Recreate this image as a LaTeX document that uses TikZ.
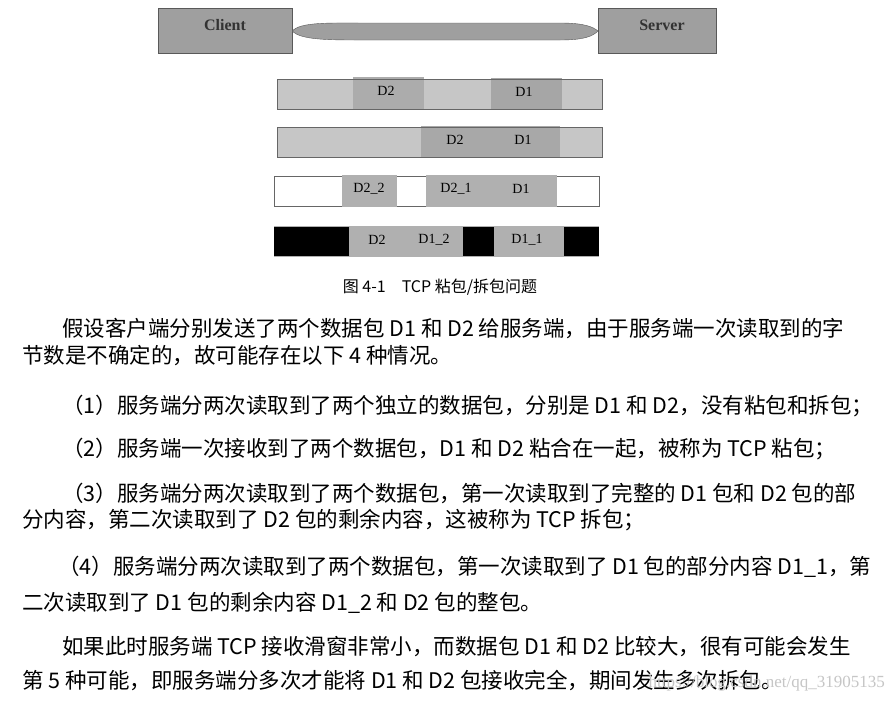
\documentclass[tikz,border=0pt]{standalone}
\usepackage{fontspec}
\setmainfont{Liberation Serif}
\newfontfamily\cjk{Noto Sans CJK SC}
\begin{document}
\begin{tikzpicture}[x=1pt,y=-1pt,
  lab/.style={font=\fontsize{14}{14}\selectfont,inner sep=0},
  big/.style={inner sep=0,font=\bfseries\fontsize{16}{16}\selectfont,text=black!80},
  para/.style={anchor=west,inner sep=0,font=\cjk\fontsize{21.5}{22}\selectfont},
  bar/.style={draw=gray!80!black,line width=0.8pt}]
\useasboundingbox (0,0) rectangle (895,702);
\fill[white] (0,0) rectangle (895,702);
% client / server
\node[draw=gray!70!black,fill=gray!75,minimum width=134pt,minimum height=45pt,anchor=north west,inner sep=0] (client) at (158,8) {};
\node[big] (clt) at (225,25) {Client};
\node[draw=gray!70!black,fill=gray!75,minimum width=118pt,minimum height=45pt,anchor=north west,inner sep=0] (server) at (598,8) {};
\node[big] (srt) at (662,25) {Server};
\fill[gray!75,draw=gray!70!black] (client.east |- 0,31) .. controls (300,22) and (330,23) .. (360,23) -- (560,23) .. controls (585,23) and (593,27) .. (server.west |- 0,31) .. controls (593,36) and (585,40) .. (560,40) -- (360,40) .. controls (330,40) and (300,40) .. (client.east |- 0,31);
% row 1
\fill[gray!45] (277,79) rectangle (602,109);
\fill[gray!65] (353,77) rectangle (424,110);
\fill[gray!70] (491,78) rectangle (562,110);
\draw[bar] (277,79) rectangle (602,109);
\node[lab] (r1a) at (386,91) {D2};
\node[lab] (r1b) at (524,92) {D1};
% row 2
\fill[gray!45] (277,127) rectangle (602,157);
\fill[gray!68] (421,126) rectangle (560,157);
\draw[bar] (277,127) rectangle (602,157);
\node[lab] (r2a) at (455,140) {D2};
\node[lab] (r2b) at (523,140) {D1};
% row 3
\draw[bar] (274,176) rectangle (599,206);
\fill[gray!62] (342,175) rectangle (397,207);
\fill[gray!62] (426,175) rectangle (557,207);
\node[lab] (r3a) at (369,189) {D2\_2};
\node[lab] (r3b) at (456,189) {D2\_1};
\node[lab] (r3c) at (521,189) {D1};
% row 4
\fill[gray!62] (274,226) rectangle (599,257);
\fill[black] (274,227) rectangle (349,256);
\fill[black] (463,227) rectangle (494,256);
\fill[black] (564,227) rectangle (599,256);
\node[lab] (r4a) at (377,240) {D2};
\node[lab] (r4b) at (434,240) {D1\_2};
\node[lab] (r4c) at (527,240) {D1\_1};
% caption
\node[inner sep=0,font=\cjk\fontsize{16}{16}\selectfont] (cap) at (440,287) {图 4-1\quad TCP 粘包/拆包问题};
% paragraphs
\node[para] (p1) at (62,329) {假设客户端分别发送了两个数据包 D1 和 D2 给服务端，由于服务端一次读取到的字};
\node[para] (p2) at (22,356) {节数是不确定的，故可能存在以下 4 种情况。};
\node[para] (p3) at (62,406) {（1）服务端分两次读取到了两个独立的数据包，分别是 D1 和 D2，没有粘包和拆包；};
\node[para] (p4) at (62,449) {（2）服务端一次接收到了两个数据包，D1 和 D2 粘合在一起，被称为 TCP 粘包；};
\node[para] (p5) at (62,493) {（3）服务端分两次读取到了两个数据包，第一次读取到了完整的 D1 包和 D2 包的部};
\node[para] (p6) at (22,520) {分内容，第二次读取到了 D2 包的剩余内容，这被称为 TCP 拆包；};
\node[para] (p7) at (58,567) {（4）服务端分两次读取到了两个数据包，第一次读取到了 D1 包的部分内容 D1\_1，第};
\node[para] (p8) at (22,603) {二次读取到了 D1 包的剩余内容 D1\_2 和 D2 包的整包。};
\node[para] (p9) at (62,647) {如果此时服务端 TCP 接收滑窗非常小，而数据包 D1 和 D2 比较大，很有可能会发生};
\node[para] (p10) at (22,680) {第 5 种可能，即服务端分多次才能将 D1 和 D2 包接收完全，期间发生多次拆包。};
\node[anchor=east,inner sep=0,text=gray!45,font=\fontsize{17}{17}\selectfont] (wm) at (885,683) {https://blog.csdn.net/qq\_31905135};
\end{tikzpicture}
\end{document}
